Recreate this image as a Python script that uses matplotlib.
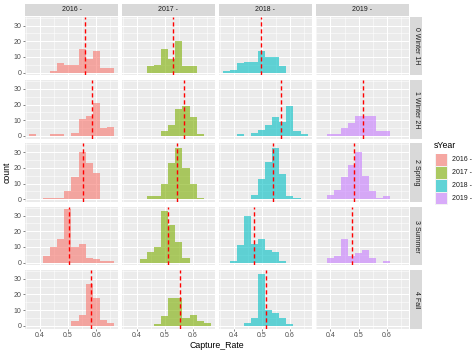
import matplotlib
matplotlib.use("Agg")
import matplotlib.pyplot as plt
from matplotlib.patches import Rectangle

# facet labels and colours (ggplot default hue palette)
years = ["2016 -", "2017 -", "2018 -", "2019 -"]
seasons = ["0 Winter 1H", "1 Winter 2H", "2 Spring", "3 Summer", "4 Fall"]
year_colors = ["#F8766D", "#7CAE00", "#00BFC4", "#C77CFF"]

# histogram bins (width 0.025)
bin_centers = [0.375, 0.400, 0.425, 0.450, 0.475, 0.500,
               0.525, 0.550, 0.575, 0.600, 0.625, 0.650]
bin_width = 0.025

# counts per year for every season
winter1h_counts = [
    [0, 0, 0, 1, 6, 5, 5, 15, 9, 14, 3, 3],
    [0, 0, 0, 4, 5, 15, 9, 20, 4, 4, 0, 0],
    [1, 2, 6, 7, 7, 14, 10, 10, 4, 0, 0, 0],
    None,
]
winter2h_counts = [
    [1, 0, 0, 1, 1, 0, 2, 11, 13, 21, 5, 6],
    [0, 0, 0, 0, 0, 3, 7, 17, 19, 12, 1, 0],
    [0, 0, 1, 0, 2, 4, 7, 12, 9, 19, 3, 1],
    [0, 1, 1, 5, 8, 13, 13, 13, 3, 3, 0, 0],
]
spring_counts = [
    [0, 0, 1, 1, 1, 5, 14, 30, 23, 17, 0, 0],
    [0, 0, 0, 2, 2, 10, 23, 33, 20, 10, 1, 0],
    [0, 0, 0, 0, 3, 13, 24, 33, 16, 2, 1, 0],
    [0, 3, 6, 14, 22, 30, 15, 5, 1, 2, 0, 0],
]
summer_counts = [
    [0, 0, 4, 10, 15, 34, 10, 12, 3, 2, 1, 1],
    [0, 0, 2, 7, 10, 33, 24, 13, 3, 0, 0, 0],
    [0, 1, 11, 30, 12, 15, 8, 7, 1, 0, 0, 0],
    [0, 3, 4, 15, 4, 6, 8, 3, 0, 1, 0, 0],
]
fall_counts = [
    [0, 0, 0, 0, 0, 0, 3, 7, 27, 18, 4, 2],
    [0, 0, 0, 0, 1, 6, 18, 18, 5, 7, 3, 2],
    [0, 0, 0, 2, 5, 33, 10, 8, 5, 1, 0, 0],
    None,
]

# mean capture rate (red dashed line) per year
winter1h_means = [0.559, 0.529, 0.496, None]
winter2h_means = [0.584, 0.567, 0.567, 0.514]
spring_means = [0.555, 0.544, 0.541, 0.484]
summer_means = [0.505, 0.511, 0.471, 0.477]
fall_means = [0.583, 0.552, 0.516, None]

all_counts = [winter1h_counts, winter2h_counts, spring_counts, summer_counts, fall_counts]
all_means = [winter1h_means, winter2h_means, spring_means, summer_means, fall_means]

W, H = 474, 355
fig = plt.figure(figsize=(W / 72, H / 72), dpi=72)
fig.patch.set_facecolor("white")
plt.rcParams["font.family"] = ["Liberation Sans", "DejaVu Sans"]


def box(x0, y0, x1, y1):
    return [x0 / W, 1 - y1 / H, (x1 - x0) / W, (y1 - y0) / H]


col_left = [25, 121.9, 218.8, 315.7]
col_w = 93
row_top = [16.7, 80.0, 143.3, 206.6, 269.9]
row_h = 58.6
small = 7.0
big = 8.8

for r, season in enumerate(seasons):
    for c, year in enumerate(years):
        x0 = col_left[c]
        y0 = row_top[r]
        ax = fig.add_axes(box(x0, y0, x0 + col_w, y0 + row_h))
        ax.set_facecolor("#EBEBEB")
        for s in ax.spines.values():
            s.set_visible(False)
        ax.set_xlim(0.3475, 0.6775)
        ax.set_ylim(-1.7, 35.7)
        ax.set_xticks([0.4, 0.5, 0.6])
        ax.set_xticks([0.35, 0.45, 0.55, 0.65], minor=True)
        ax.set_yticks([0, 10, 20, 30])
        ax.set_yticks([5, 15, 25, 35], minor=True)
        ax.grid(True, which="major", color="white", lw=1.0)
        ax.grid(True, which="minor", color="white", lw=0.5)
        ax.set_axisbelow(True)
        ax.tick_params(which="minor", length=0)
        ax.tick_params(which="major", length=2, width=0.6, color="#333333",
                       labelsize=small, labelcolor="#4D4D4D", pad=1.5)
        if r < len(seasons) - 1:
            ax.tick_params(axis="x", labelbottom=False, length=0)
        else:
            ax.set_xticklabels(["0.4", "0.5", "0.6"])
        if c > 0:
            ax.tick_params(axis="y", labelleft=False, length=0)

        counts = all_counts[r][c]
        if counts is not None:
            ax.bar(bin_centers, counts, width=bin_width, color=year_colors[c],
                   alpha=0.6, linewidth=0)
        m = all_means[r][c]
        if m is not None:
            ax.axvline(m, color="red", lw=1.4, linestyle=(0, (3, 2)))

        # column strips on top
        if r == 0:
            sax = fig.add_axes(box(x0, 3.5, x0 + col_w, 16.2))
            sax.set_facecolor("#D9D9D9")
            sax.set_xticks([])
            sax.set_yticks([])
            for s in sax.spines.values():
                s.set_visible(False)
            sax.text(0.5, 0.5, year, ha="center", va="center", fontsize=small,
                     color="#1A1A1A", transform=sax.transAxes)
    # row strips on right
    sax = fig.add_axes(box(409.6, row_top[r], 422.5, row_top[r] + row_h))
    sax.set_facecolor("#D9D9D9")
    sax.set_xticks([])
    sax.set_yticks([])
    for s in sax.spines.values():
        s.set_visible(False)
    sax.text(0.5, 0.5, season, ha="center", va="center", fontsize=small,
             color="#1A1A1A", rotation=270, transform=sax.transAxes)

# axis titles
fig.text(217 / W, 1 - 346 / H, "Capture_Rate", ha="center", va="center", fontsize=big)
fig.text(7 / W, 1 - 172.5 / H, "count", ha="center", va="center", fontsize=big,
         rotation=90)

# legend
fig.text(434 / W, 1 - 145.5 / H, "sYear", ha="left", va="center", fontsize=big)
key_top = 153.5
key_h = 12.9
for i, (year, col) in enumerate(zip(years, year_colors)):
    ky = key_top + i * key_h
    fig.add_artist(Rectangle((435 / W, 1 - (ky + key_h) / H), 12.5 / W, key_h / H,
                             transform=fig.transFigure, facecolor="#F2F2F2",
                             edgecolor="none"))
    fig.add_artist(Rectangle((435.7 / W, 1 - (ky + key_h - 0.7) / H), 11.1 / W,
                             (key_h - 1.4) / H, transform=fig.transFigure,
                             facecolor=col, alpha=0.6, edgecolor="none"))
    fig.text(451.5 / W, 1 - (ky + key_h / 2) / H, year, ha="left", va="center",
             fontsize=small, color="#1A1A1A")

fig.savefig("out.png", dpi=72)
